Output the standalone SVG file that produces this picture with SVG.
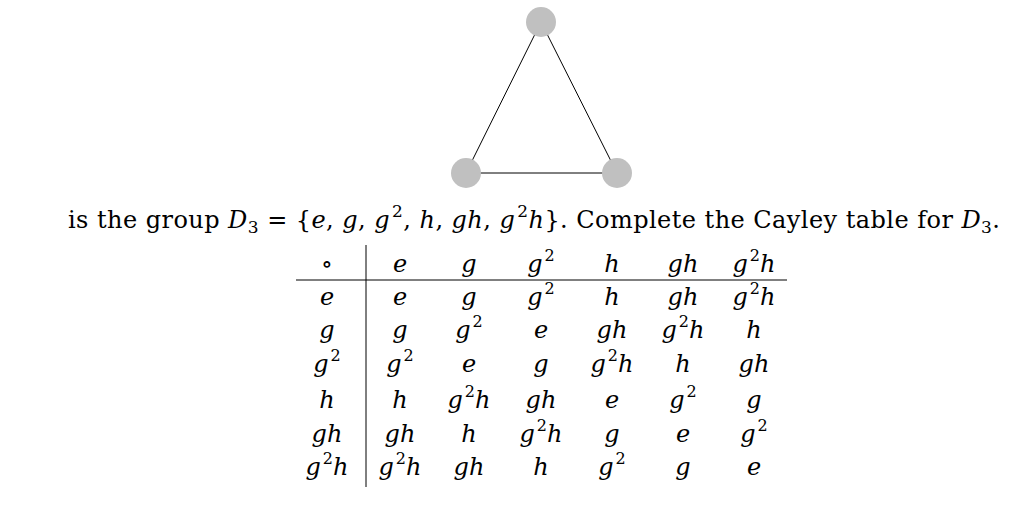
<svg xmlns="http://www.w3.org/2000/svg" width="1024" height="526" viewBox="0 0 1024 526">
<style>
.n{fill:#c0c0c0}
.e{stroke:#000;stroke-width:1}
text{font-family:"DejaVu Serif","Liberation Serif",serif;font-size:24px;fill:#000}
.m{font-style:italic}
.t text{text-anchor:middle}
.s{font-size:16px;font-style:normal}
</style>
<rect width="1024" height="526" fill="#fff"/>
<g id="connectors">
<line class="e" x1="541" y1="22" x2="466" y2="173"/>
<line class="e" x1="541" y1="22" x2="617" y2="173"/>
<line class="e" x1="466" y1="173" x2="617" y2="173"/>
</g>
<g id="n1"><circle class="n" cx="541" cy="22" r="15"/></g>
<g id="n2"><circle class="n" cx="466" cy="173" r="15"/></g>
<g id="n3"><circle class="n" cx="617" cy="173" r="15"/></g>
<text x="68" y="228" font-size="25" textLength="932" lengthAdjust="spacing">is the group <tspan class="m">D</tspan><tspan font-size="17" dy="5">3</tspan><tspan dy="-5"> = {</tspan><tspan class="m">e</tspan>, <tspan class="m">g</tspan>, <tspan class="m">g</tspan><tspan font-size="17" dy="-11" dx="2">2</tspan><tspan dy="11">, </tspan><tspan class="m">h</tspan>, <tspan class="m">gh</tspan>, <tspan class="m">g</tspan><tspan font-size="17" dy="-11" dx="2">2</tspan><tspan class="m" dy="11">h</tspan>}. Complete the Cayley table for <tspan class="m">D</tspan><tspan font-size="17" dy="5">3</tspan><tspan dy="-5">.</tspan></text>
<g id="table" class="t">
<line class="e" x1="366" y1="245" x2="366" y2="487"/>
<line class="e" x1="296" y1="280" x2="787" y2="280"/>
<text x="327" y="272">∘</text>
<text class="m" x="400" y="272">e</text>
<text class="m" x="469" y="272">g</text>
<text class="m" x="541" y="272">g<tspan class="s" dy="-11" dx="2">2</tspan></text>
<text class="m" x="612" y="272">h</text>
<text class="m" x="683" y="272">gh</text>
<text class="m" x="754" y="272">g<tspan class="s" dy="-11" dx="2">2</tspan><tspan dy="11">h</tspan></text>

<text class="m" x="327" y="305">e</text>
<text class="m" x="400" y="305">e</text>
<text class="m" x="469" y="305">g</text>
<text class="m" x="541" y="305">g<tspan class="s" dy="-11" dx="2">2</tspan></text>
<text class="m" x="612" y="305">h</text>
<text class="m" x="683" y="305">gh</text>
<text class="m" x="754" y="305">g<tspan class="s" dy="-11" dx="2">2</tspan><tspan dy="11">h</tspan></text>

<text class="m" x="327" y="338">g</text>
<text class="m" x="400" y="338">g</text>
<text class="m" x="469" y="338">g<tspan class="s" dy="-11" dx="2">2</tspan></text>
<text class="m" x="541" y="338">e</text>
<text class="m" x="612" y="338">gh</text>
<text class="m" x="683" y="338">g<tspan class="s" dy="-11" dx="2">2</tspan><tspan dy="11">h</tspan></text>
<text class="m" x="754" y="338">h</text>

<text class="m" x="327" y="372">g<tspan class="s" dy="-11" dx="2">2</tspan></text>
<text class="m" x="400" y="372">g<tspan class="s" dy="-11" dx="2">2</tspan></text>
<text class="m" x="469" y="372">e</text>
<text class="m" x="541" y="372">g</text>
<text class="m" x="612" y="372">g<tspan class="s" dy="-11" dx="2">2</tspan><tspan dy="11">h</tspan></text>
<text class="m" x="683" y="372">h</text>
<text class="m" x="754" y="372">gh</text>

<text class="m" x="327" y="408">h</text>
<text class="m" x="400" y="408">h</text>
<text class="m" x="469" y="408">g<tspan class="s" dy="-11" dx="2">2</tspan><tspan dy="11">h</tspan></text>
<text class="m" x="541" y="408">gh</text>
<text class="m" x="612" y="408">e</text>
<text class="m" x="683" y="408">g<tspan class="s" dy="-11" dx="2">2</tspan></text>
<text class="m" x="754" y="408">g</text>

<text class="m" x="327" y="442">gh</text>
<text class="m" x="400" y="442">gh</text>
<text class="m" x="469" y="442">h</text>
<text class="m" x="541" y="442">g<tspan class="s" dy="-11" dx="2">2</tspan><tspan dy="11">h</tspan></text>
<text class="m" x="612" y="442">g</text>
<text class="m" x="683" y="442">e</text>
<text class="m" x="754" y="442">g<tspan class="s" dy="-11" dx="2">2</tspan></text>

<text class="m" x="327" y="475">g<tspan class="s" dy="-11" dx="2">2</tspan><tspan dy="11">h</tspan></text>
<text class="m" x="400" y="475">g<tspan class="s" dy="-11" dx="2">2</tspan><tspan dy="11">h</tspan></text>
<text class="m" x="469" y="475">gh</text>
<text class="m" x="541" y="475">h</text>
<text class="m" x="612" y="475">g<tspan class="s" dy="-11" dx="2">2</tspan></text>
<text class="m" x="683" y="475">g</text>
<text class="m" x="754" y="475">e</text>
</g>
</svg>
